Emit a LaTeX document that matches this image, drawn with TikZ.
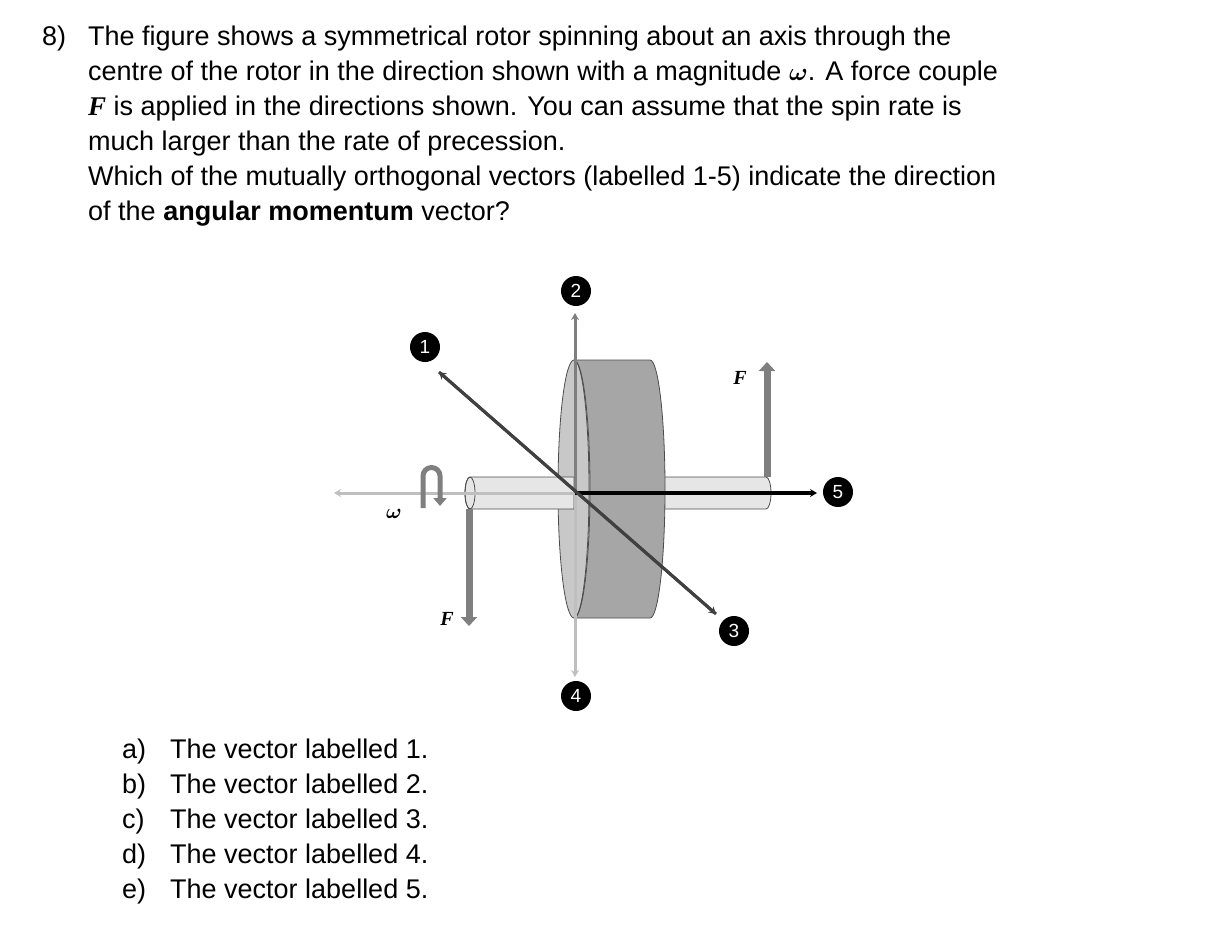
\documentclass[tikz,border=0pt]{standalone}
\usepackage{fontspec}
\usepackage{bm}
\setmainfont{Liberation Sans}
\newfontfamily\serifF{Liberation Serif}
\usetikzlibrary{arrows.meta}
\definecolor{bodyg}{HTML}{A6A6A6}
\definecolor{faceg}{HTML}{C8C8C8}
\definecolor{shaftg}{HTML}{E6E6E6}
\definecolor{vecdark}{HTML}{404040}
\definecolor{vecmid}{HTML}{7F7F7F}
\definecolor{veclight}{HTML}{BFBFBF}
\begin{document}
\begin{tikzpicture}[x=1pt,y=-1pt,
  qtext/.style={anchor=base west,inner sep=0pt,font=\fontsize{27}{33}\selectfont},
  numc/.style={circle,fill=black,text=white,minimum size=30pt,inner sep=0pt,font=\fontsize{19}{19}\selectfont},
  vec/.style={line width=3pt,-{Stealth[length=7pt,width=8pt]}},
  force/.style={line width=7pt,draw=vecmid,-{Triangle[length=9pt,width=16pt]}},
  outl/.style={draw=black!70,line width=0.8pt},
  flabel/.style={font=\serifF\bfseries\itshape\fontsize{20}{20}\selectfont}]
\useasboundingbox (0,0) rectangle (1230,937);
% question text
\node[qtext] (n8) at (42,45) {8)};
\node[qtext] (l1) at (88,45) {The figure shows a symmetrical rotor spinning about an axis through the};
\node[qtext] (l2) at (88,80) {centre of the rotor in the direction shown with a magnitude $\bm{\omega}$. A force couple};
\node[qtext] (l3) at (88,115) {{\serifF\bfseries\itshape F} is applied in the directions shown. You can assume that the spin rate is};
\node[qtext] (l4) at (88,150) {much larger than the rate of precession.};
\node[qtext] (l5) at (88,185) {Which of the mutually orthogonal vectors (labelled 1-5) indicate the direction};
\node[qtext] (l6) at (88,220) {of the \textbf{angular momentum} vector?};
% answers
\node[qtext] (aa) at (122,758) {a)};\node[qtext] (at) at (170,758) {The vector labelled 1.};
\node[qtext] (ba) at (122,793) {b)};\node[qtext] (bt) at (170,793) {The vector labelled 2.};
\node[qtext] (ca) at (122,828) {c)};\node[qtext] (ct) at (170,828) {The vector labelled 3.};
\node[qtext] (da) at (122,863) {d)};\node[qtext] (dt) at (170,863) {The vector labelled 4.};
\node[qtext] (ea) at (122,898) {e)};\node[qtext] (et) at (170,898) {The vector labelled 5.};
% rotor
\filldraw[outl,fill=shaftg] (650,477) -- (766,477) arc(-90:90:5 and 16) -- (650,509) -- cycle;
\filldraw[outl,fill=bodyg] (574,360) -- (650,360) arc(-90:90:15 and 129) -- (574,618) -- cycle;
\filldraw[outl,fill=faceg] (574,489) ellipse (16 and 129);
\draw[outl] (574,360) arc(-90:90:15 and 129);
\filldraw[outl,fill=shaftg] (470,477) -- (574,477) -- (574,509) -- (470,509) arc(90:270:5 and 16) -- cycle;
\draw[outl] (470,493) ellipse (5 and 16);
% vectors
\coordinate (c) at (575,493);
\coordinate (t1) at (439,372);
\coordinate (t2) at (575,313);
\coordinate (t3) at (716,614);
\coordinate (t4) at (575,677);
\coordinate (t5) at (817,493);
\coordinate (tw) at (334,493);
\draw[vec,draw=veclight] (c) -- (tw);
\draw[vec,draw=veclight] (c) -- (t4);
\draw[vec,draw=vecmid] (c) -- (t2);
\draw[vec,draw=black,line width=4pt] (c) -- (t5);
\draw[vec,draw=vecdark] (t3) -- (t1);
\draw[vec,draw=vecdark] (t1) -- (t3);
\node[numc] (n1) at (425,347) {1};
\node[numc] (n2) at (576,291) {2};
\node[numc] (n3) at (734,631) {3};
\node[numc] (n4) at (576,696) {4};
\node[numc] (n5) at (838,492) {5};
% forces
\coordinate (fr0) at (767,477);
\coordinate (fr1) at (767,362);
\coordinate (fl0) at (469,509);
\coordinate (fl1) at (469,626);
\draw[force] (fr0) -- (fr1);
\draw[force] (fl0) -- (fl1);
\node[flabel] (fR) at (740,378) {F};
\node[flabel] (fL) at (447,619) {F};
% spin curl
\draw[line width=5pt,draw=vecmid,-{Triangle[length=8pt,width=13pt]}] (423,508) -- (423,476) arc(180:360:8.5) -- (440,506);
\node[font=\fontsize{22}{22}\selectfont] (om) at (394,514) {$\bm{\omega}$};
\end{tikzpicture}
\end{document}
